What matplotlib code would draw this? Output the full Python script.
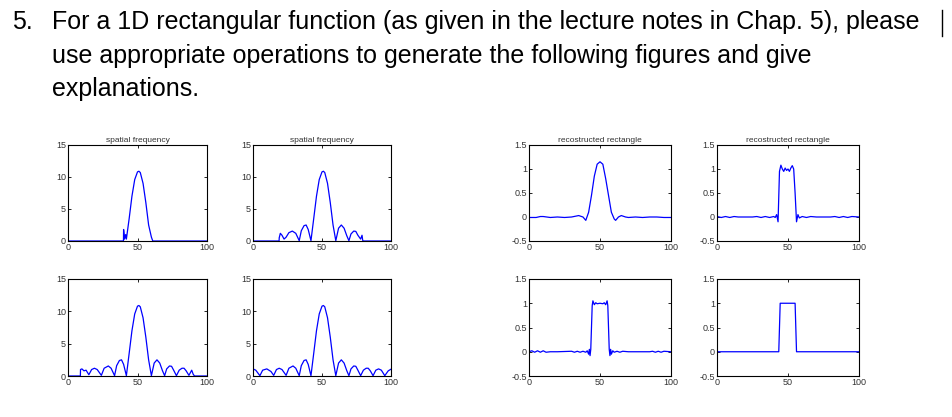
import matplotlib.pyplot as plt

plt.rcParams['font.family'] = ['Liberation Sans', 'DejaVu Sans']

# spectra (magnitude)
spec1_x = [0, 39.9, 40, 40.7, 41.5, 42, 44, 46, 48, 50, 51, 52, 54, 56, 58, 60, 61, 100]
spec1_y = [0, 0, 1.8, 0.3, 1.0, 0.3, 3.5, 7.0, 9.6, 10.8, 10.9, 10.7, 9.0, 6.0, 2.5, 0.6, 0, 0]

spec2_x = [0, 18.9, 19, 19.8, 21, 22.5, 24, 26, 28.5, 31, 33.5, 35, 37, 38.5, 40, 42,
           44, 46, 48, 50, 51, 52, 54, 56, 58, 60, 62, 64, 66, 68, 69.5, 71, 73,
           74.5, 76, 78, 79, 79.5, 80, 100]
spec2_y = [0, 0, 0.5, 1.2, 0.9, 0.3, 0.6, 1.3, 1.55, 1.2, 0.05, 1.6, 2.4, 2.5, 1.8, 0.05,
           3.5, 7.0, 9.6, 10.8, 10.9, 10.7, 9.0, 6.0, 2.5, 0.05, 2.0, 2.5, 2.0, 0.8, 0.05, 1.1, 1.55,
           1.5, 0.9, 0.3, 0.9, 0.1, 0, 0]

spec3_x = [0, 8.9, 9, 10, 11.5, 13, 15, 17, 19, 21, 24, 26, 29, 31, 33.5, 35, 37, 38.5, 40, 42,
           44, 46, 48, 50, 51, 52, 54, 56, 58, 60, 62, 64, 66, 68, 69.5, 71, 73, 74.5,
           76, 78, 80, 82, 83.5, 85, 87, 89, 90, 91, 100]
spec3_y = [0, 0, 1.0, 1.1, 0.8, 0.9, 0.2, 1.0, 1.2, 1.0, 0.1, 1.2, 1.55, 1.2, 0.05, 1.6, 2.4, 2.5, 1.8, 0.05,
           3.5, 7.0, 9.6, 10.8, 10.9, 10.7, 9.0, 6.0, 2.5, 0.05, 2.0, 2.5, 2.0, 0.8, 0.05, 1.1, 1.55, 1.5,
           0.9, 0.05, 0.9, 1.2, 1.2, 0.8, 0.1, 0.9, 0.3, 0, 0]

spec4_x = [0, 2, 5, 7, 10, 13, 15, 17, 19, 21, 24, 26, 29, 31, 33.5, 35, 37, 38.5, 40, 42,
           44, 46, 48, 50, 51, 52, 54, 56, 58, 60, 62, 64, 66, 68, 69.5, 71, 73, 74.5,
           76, 78, 80, 82, 83.5, 85, 87, 89, 91, 93, 95.5, 98, 100]
spec4_y = [1.1, 0.9, 0.05, 0.9, 1.1, 0.7, 0.1, 1.0, 1.2, 1.0, 0.1, 1.2, 1.55, 1.2, 0.05, 1.6, 2.4, 2.5, 1.8, 0.05,
           3.5, 7.0, 9.6, 10.8, 10.9, 10.7, 9.0, 6.0, 2.5, 0.05, 2.0, 2.5, 2.0, 0.8, 0.05, 1.1, 1.55, 1.5,
           0.9, 0.05, 0.9, 1.2, 1.2, 0.8, 0.05, 0.9, 1.1, 0.9, 0.05, 0.8, 1.05]

# reconstructions
rec1_x = [0, 5, 8, 10, 15, 20, 25, 30, 35, 38, 40, 42, 44, 46, 48, 50, 52, 54, 56, 58, 60, 61,
          63, 65, 68, 70, 75, 80, 85, 90, 95, 100]
rec1_y = [-0.01, -0.01, 0.01, 0.01, -0.01, 0, -0.01, 0, 0.03, 0.0, -0.07, 0.1, 0.45, 0.85, 1.1, 1.15,
          1.1, 0.8, 0.45, 0.1, -0.04, -0.07, 0.0, 0.03, 0.0, -0.01, 0, -0.01, 0.0, 0, -0.01, -0.01]

rec2_x = [0, 3, 6, 9, 12, 15, 20, 25, 28, 31, 34, 37, 40, 41, 42, 43, 44, 45, 46, 47, 48, 49,
          50, 51, 52, 53, 54, 55, 56, 57, 58, 60, 63, 66, 70, 75, 80, 83, 86, 89, 92, 95, 100]
rec2_y = [0.01, -0.01, 0.01, -0.01, 0.01, 0, 0, 0, 0.01, -0.01, 0.01, -0.01, 0.01, -0.01, 0.05, -0.1,
          0.95, 1.08, 1.0, 0.95, 1.02, 0.97, 1.0, 0.95, 1.02, 1.07, 1.0, 0.5, -0.1, 0.05, -0.02,
          0.01, -0.01, 0.01, 0, 0, 0, 0.01, -0.01, 0.01, -0.01, 0.01, 0]

rec3_x = [0, 2, 4, 6, 8, 10, 12, 15, 20, 30, 32, 34, 36, 38, 40, 41, 42, 42.5, 43, 43.5, 44, 44.5,
          45, 46, 47, 48, 50, 52, 53, 54, 55, 55.5, 56, 56.5, 57, 57.5, 58, 59, 60, 62, 64, 66,
          70, 85, 87, 89, 91, 93, 95, 100]
rec3_y = [0, 0.02, -0.01, 0.02, -0.01, 0.02, -0.01, 0, 0, 0.01, -0.01, 0.01, -0.01, 0.01, -0.01, 0.02,
          -0.05, 0.05, -0.08, 0.05, 0.5, 0.95, 1.05, 0.97, 1.01, 0.99, 1.0, 0.99, 1.01, 0.97, 1.05,
          0.95, 0.5, 0.05, -0.08, 0.05, -0.05, 0.02, -0.01, 0.01, -0.01, 0.01, 0, 0, 0.01, -0.01,
          0.01, -0.01, 0.01, 0]

rec4_x = [0, 43.5, 44, 44.5, 55, 55.5, 56, 100]
rec4_y = [0, 0, 0.5, 1.0, 1.0, 0.5, 0, 0]

H = 417
def box(x0, x1, y0, y1):
    return [x0 / 953, 1 - y1 / H, (x1 - x0) / 953, (y1 - y0) / H]

panels = [
    (box(68, 207, 145, 241), spec1_x, spec1_y, 'spatial frequency', 'spec'),
    (box(253, 391, 145, 241), spec2_x, spec2_y, 'spatial frequency', 'spec'),
    (box(529, 671, 145, 241), rec1_x, rec1_y, 'recostructed rectangle', 'rec'),
    (box(717, 859, 145, 241), rec2_x, rec2_y, 'recostructed rectangle', 'rec'),
    (box(68, 207, 279, 376), spec3_x, spec3_y, None, 'spec'),
    (box(253, 391, 279, 376), spec4_x, spec4_y, None, 'spec'),
    (box(529, 671, 279, 376), rec3_x, rec3_y, None, 'rec'),
    (box(717, 859, 279, 376), rec4_x, rec4_y, None, 'rec'),
]

fig = plt.figure(figsize=(9.53, 4.17), dpi=100)

for rect, xs, ys, title, kind in panels:
    ax = fig.add_axes(rect)
    ax.plot(xs, ys, color='#0000ff', lw=0.9)
    ax.set_xlim(0, 100)
    ax.set_xticks([0, 50, 100])
    if kind == 'spec':
        ax.set_ylim(0, 15)
        ax.set_yticks([0, 5, 10, 15])
    else:
        ax.set_ylim(-0.5, 1.5)
        ax.set_yticks([-0.5, 0, 0.5, 1, 1.5])
        ax.set_yticklabels(['-0.5', '0', '0.5', '1', '1.5'])
    ax.tick_params(direction='in', top=True, right=True, labelsize=6.5, length=2,
                   width=0.6, pad=1.5, labelcolor='#333333')
    for s in ax.spines.values():
        s.set_linewidth(0.8)
    if title:
        ax.set_title(title, fontsize=6, pad=2, color='#333333')

fig.text(12 / 953, 1 - 22 / H, '5.', fontsize=18, va='center')
fig.text(52 / 953, 1 - 22 / H,
         'For a 1D rectangular function (as given in the lecture notes in Chap. 5), please',
         fontsize=18, va='center')
fig.text(52 / 953, 1 - 56 / H,
         'use appropriate operations to generate the following figures and give',
         fontsize=18, va='center')
fig.text(52 / 953, 1 - 89 / H, 'explanations.', fontsize=18, va='center')
fig.add_artist(plt.Line2D([942 / 953, 942 / 953], [1 - 10 / H, 1 - 36 / H], color='black', lw=1))

fig.savefig('out.png', dpi=100)
